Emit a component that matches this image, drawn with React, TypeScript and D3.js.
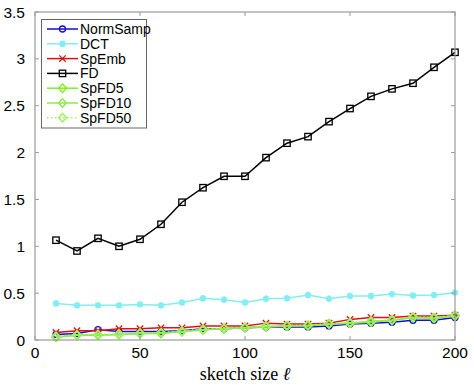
import React from "react";
import * as d3 from "d3";

const sketchSizes = [10, 20, 30, 40, 50, 60, 70, 80, 90, 100, 110, 120, 130, 140, 150, 160, 170, 180, 190, 200];
const normSamp = [0.06, 0.07, 0.11, 0.09, 0.09, 0.09, 0.1, 0.12, 0.12, 0.13, 0.14, 0.14, 0.14, 0.15, 0.17, 0.18, 0.19, 0.21, 0.21, 0.24];
const dct = [0.39, 0.37, 0.37, 0.37, 0.38, 0.37, 0.4, 0.445, 0.43, 0.4, 0.44, 0.445, 0.48, 0.44, 0.47, 0.47, 0.49, 0.475, 0.48, 0.505];
const spEmb = [0.08, 0.1, 0.1, 0.12, 0.12, 0.13, 0.13, 0.15, 0.15, 0.15, 0.18, 0.17, 0.17, 0.18, 0.22, 0.24, 0.24, 0.255, 0.255, 0.265];
const fd = [1.065, 0.95, 1.085, 1.0, 1.075, 1.235, 1.47, 1.625, 1.747, 1.747, 1.946, 2.1, 2.17, 2.33, 2.47, 2.6, 2.68, 2.74, 2.91, 3.07];
const spFD5 = [0.03, 0.05, 0.05, 0.06, 0.07, 0.07, 0.09, 0.11, 0.12, 0.13, 0.14, 0.15, 0.15, 0.17, 0.18, 0.19, 0.21, 0.24, 0.23, 0.26];
const spFD10 = [0.035, 0.05, 0.055, 0.06, 0.07, 0.075, 0.09, 0.11, 0.12, 0.13, 0.145, 0.15, 0.155, 0.17, 0.18, 0.2, 0.21, 0.24, 0.235, 0.26];
const spFD50 = [0.04, 0.055, 0.06, 0.065, 0.075, 0.08, 0.095, 0.115, 0.125, 0.135, 0.15, 0.155, 0.16, 0.175, 0.185, 0.2, 0.215, 0.245, 0.24, 0.265];

const xTicks = [0, 50, 100, 150, 200];
const yTicks = [0, 0.5, 1, 1.5, 2, 2.5, 3, 3.5];

type Series = { name: string; values: number[]; color: string; marker: string; dash?: string; width: number };

const seriesList: Series[] = [
  { name: "NormSamp", values: normSamp, color: "#1010d0", marker: "circle", width: 1.5 },
  { name: "DCT", values: dct, color: "#80eef2", marker: "star", width: 1.5 },
  { name: "SpEmb", values: spEmb, color: "#e01010", marker: "x", width: 1.5 },
  { name: "FD", values: fd, color: "#000000", marker: "square", width: 1.5 },
  { name: "SpFD5", values: spFD5, color: "#80f020", marker: "diamond", width: 1.5 },
  { name: "SpFD10", values: spFD10, color: "#90e850", marker: "diamond", width: 1.5 },
  { name: "SpFD50", values: spFD50, color: "#a0f060", marker: "diamond", dash: "1.5,2.5", width: 1.5 },
];

function Marker({ type, x, y, color }: { type: string; x: number; y: number; color: string }) {
  const s = 3.2;
  if (type === "circle") return <circle cx={x} cy={y} r={3} fill="none" stroke={color} strokeWidth={1.3} />;
  if (type === "square") return <rect x={x - s} y={y - s} width={2 * s} height={2 * s} fill="none" stroke={color} strokeWidth={1.3} />;
  if (type === "x")
    return (
      <path d={`M${x - s},${y - s}L${x + s},${y + s}M${x - s},${y + s}L${x + s},${y - s}`} stroke={color} strokeWidth={1.3} />
    );
  if (type === "diamond")
    return (
      <path d={`M${x},${y - 4.2}L${x + 4},${y}L${x},${y + 4.2}L${x - 4},${y}Z`} fill="none" stroke={color} strokeWidth={1.5} />
    );
  if (type === "star")
    return (
      <path
        d={`M${x - s},${y}L${x + s},${y}M${x},${y - s}L${x},${y + s}M${x - 2.4},${y - 2.4}L${x + 2.4},${y + 2.4}M${x - 2.4},${y + 2.4}L${x + 2.4},${y - 2.4}`}
        stroke={color}
        strokeWidth={2}
      />
    );
  return null;
}

export default function App() {
  const W = 474, H = 385;
  const left = 35, right = 455, top = 12, bottom = 340;
  const x = d3.scaleLinear().domain([0, 200]).range([left, right]);
  const y = d3.scaleLinear().domain([0, 3.5]).range([bottom, top]);
  const line = d3.line<number>().x((_, i) => x(sketchSizes[i])).y((v) => y(v));
  const axisColor = "#9a9a9a";
  const tl = 4;

  return (
    <svg width={W} height={H} style={{ position: "absolute", left: 0, top: 0, background: "#fff" }}>
      <rect x={0} y={0} width={W} height={H} fill="#fff" />
      {seriesList.map((s) => (
        <g key={s.name}>
          <path d={line(s.values) || ""} fill="none" stroke={s.color} strokeWidth={s.width} strokeDasharray={s.dash} />
          {s.values.map((v, i) => (
            <Marker key={i} type={s.marker} x={x(sketchSizes[i])} y={y(v)} color={s.color} />
          ))}
        </g>
      ))}
      <rect x={left} y={top} width={right - left} height={bottom - top} fill="none" stroke={axisColor} strokeWidth={1.2} />
      {xTicks.map((t) => (
        <g key={"x" + t}>
          <line x1={x(t)} x2={x(t)} y1={bottom} y2={bottom - tl} stroke={axisColor} />
          <line x1={x(t)} x2={x(t)} y1={top} y2={top + tl} stroke={axisColor} />
          <text x={x(t)} y={358} textAnchor="middle" fontFamily="Liberation Sans, Arial, sans-serif" fontSize={15.5} fill="#000">
            {t}
          </text>
        </g>
      ))}
      {yTicks.map((t) => (
        <g key={"y" + t}>
          <line x1={left} x2={left + tl} y1={y(t)} y2={y(t)} stroke={axisColor} />
          <line x1={right} x2={right - tl} y1={y(t)} y2={y(t)} stroke={axisColor} />
          <text x={25} y={y(t) + 5.5} textAnchor="end" fontFamily="Liberation Sans, Arial, sans-serif" fontSize={15.5} fill="#000">
            {t}
          </text>
        </g>
      ))}
      <text x={245} y={380} textAnchor="middle" fontFamily="Liberation Serif, Times New Roman, serif" fontSize={18} fill="#000">
        sketch size <tspan fontStyle="italic">ℓ</tspan>
      </text>
      <g>
        <rect x={41.5} y={19.5} width={105} height={108.5} fill="#fff" stroke="#666" strokeWidth={1} />
        {seriesList.map((s, i) => {
          const ly = 29 + i * 14.8;
          return (
            <g key={"lg" + s.name}>
              <line x1={47} x2={78} y1={ly} y2={ly} stroke={s.color} strokeWidth={s.width} strokeDasharray={s.dash} />
              <Marker type={s.marker} x={62.5} y={ly} color={s.color} />
              <text x={80} y={ly + 5} fontFamily="Liberation Sans, Arial, sans-serif" fontSize={14} fill="#000">
                {s.name}
              </text>
            </g>
          );
        })}
      </g>
    </svg>
  );
}
